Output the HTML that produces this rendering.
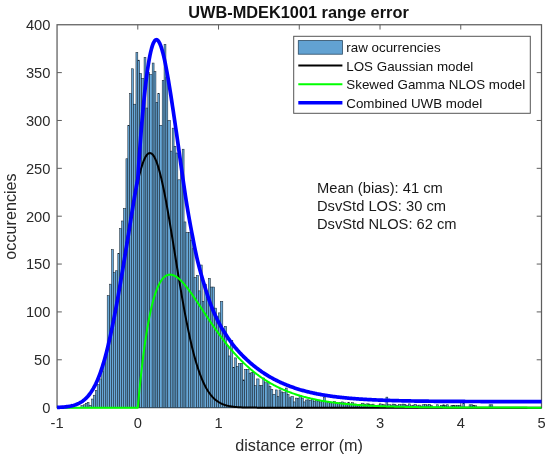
<!DOCTYPE html>
<html><head><meta charset="utf-8"><title>UWB-MDEK1001 range error</title>
<style>html,body{margin:0;padding:0;background:#fff}body{width:550px;height:461px;overflow:hidden}</style></head>
<body>
<svg width="550" height="461" viewBox="0 0 550 461" style="display:block">
<rect width="550" height="461" fill="#fff"/>
<rect x="57.05" y="24.75" width="484.45" height="382.9" fill="none" stroke="#5e5e5e" stroke-width="1.25"/>
<path d="M137.79,407.65 v-4.8 M137.79,24.75 v4.8 M218.53,407.65 v-4.8 M218.53,24.75 v4.8 M299.27,407.65 v-4.8 M299.27,24.75 v4.8 M380.02,407.65 v-4.8 M380.02,24.75 v4.8 M460.76,407.65 v-4.8 M460.76,24.75 v4.8 M57.05,359.79 h4.8 M541.5,359.79 h-4.8 M57.05,311.92 h4.8 M541.5,311.92 h-4.8 M57.05,264.06 h4.8 M541.5,264.06 h-4.8 M57.05,216.20 h4.8 M541.5,216.20 h-4.8 M57.05,168.34 h4.8 M541.5,168.34 h-4.8 M57.05,120.47 h4.8 M541.5,120.47 h-4.8 M57.05,72.61 h4.8 M541.5,72.61 h-4.8" stroke="#5e5e5e" stroke-width="1" fill="none"/>
<g fill="#68a8d8" stroke="#121e2a" stroke-width="0.52">
<rect x="80.938" y="405.74" width="2.500" height="1.91"/>
<rect x="83.438" y="404.78" width="1.875" height="2.87"/>
<rect x="85.312" y="403.34" width="1.875" height="4.31"/>
<rect x="87.188" y="402.39" width="1.875" height="5.26"/>
<rect x="89.062" y="405.26" width="2.500" height="2.39"/>
<rect x="91.562" y="399.03" width="1.875" height="8.62"/>
<rect x="93.438" y="395.21" width="1.875" height="12.44"/>
<rect x="95.312" y="390.42" width="1.875" height="17.23"/>
<rect x="97.188" y="384.68" width="2.500" height="22.97"/>
<rect x="99.688" y="378.93" width="1.875" height="28.72"/>
<rect x="101.562" y="371.27" width="1.875" height="36.38"/>
<rect x="103.438" y="362.66" width="1.875" height="44.99"/>
<rect x="105.312" y="350.21" width="1.875" height="57.44"/>
<rect x="107.188" y="295.65" width="2.500" height="112.00"/>
<rect x="109.688" y="284.16" width="1.875" height="123.49"/>
<rect x="111.562" y="249.70" width="1.875" height="157.95"/>
<rect x="113.438" y="272.68" width="1.875" height="134.97"/>
<rect x="115.312" y="270.76" width="2.500" height="136.89"/>
<rect x="117.812" y="253.53" width="1.875" height="154.12"/>
<rect x="119.688" y="228.64" width="1.875" height="179.01"/>
<rect x="121.562" y="220.99" width="1.875" height="186.66"/>
<rect x="123.438" y="208.54" width="2.500" height="199.11"/>
<rect x="125.938" y="158.76" width="1.875" height="248.88"/>
<rect x="127.812" y="125.26" width="1.875" height="282.39"/>
<rect x="129.688" y="93.67" width="1.875" height="313.98"/>
<rect x="131.562" y="68.78" width="1.875" height="338.87"/>
<rect x="133.438" y="104.20" width="2.500" height="303.45"/>
<rect x="135.938" y="52.51" width="1.875" height="355.14"/>
<rect x="137.812" y="60.17" width="1.875" height="347.48"/>
<rect x="139.688" y="73.57" width="1.875" height="334.08"/>
<rect x="141.562" y="78.36" width="2.500" height="329.29"/>
<rect x="144.062" y="57.30" width="1.875" height="350.35"/>
<rect x="145.938" y="108.03" width="1.875" height="299.62"/>
<rect x="147.812" y="72.61" width="1.875" height="335.04"/>
<rect x="149.688" y="74.53" width="2.500" height="333.12"/>
<rect x="152.188" y="63.04" width="1.875" height="344.61"/>
<rect x="154.062" y="71.66" width="1.875" height="335.99"/>
<rect x="155.938" y="102.29" width="1.875" height="305.36"/>
<rect x="157.812" y="93.67" width="1.875" height="313.98"/>
<rect x="159.688" y="125.26" width="2.500" height="282.39"/>
<rect x="162.188" y="80.27" width="1.875" height="327.38"/>
<rect x="164.062" y="44.37" width="1.875" height="363.28"/>
<rect x="165.938" y="77.40" width="1.875" height="330.25"/>
<rect x="167.812" y="120.47" width="2.500" height="287.18"/>
<rect x="170.312" y="151.11" width="1.875" height="256.54"/>
<rect x="172.188" y="128.13" width="1.875" height="279.52"/>
<rect x="174.062" y="146.32" width="1.875" height="261.33"/>
<rect x="175.938" y="153.02" width="1.875" height="254.63"/>
<rect x="177.812" y="179.82" width="2.500" height="227.83"/>
<rect x="180.312" y="168.34" width="1.875" height="239.31"/>
<rect x="182.188" y="149.19" width="1.875" height="258.46"/>
<rect x="184.062" y="221.94" width="1.875" height="185.71"/>
<rect x="185.938" y="232.47" width="2.500" height="175.18"/>
<rect x="188.438" y="232.47" width="1.875" height="175.18"/>
<rect x="190.312" y="240.13" width="1.875" height="167.52"/>
<rect x="192.188" y="248.75" width="1.875" height="158.90"/>
<rect x="194.062" y="277.46" width="2.500" height="130.19"/>
<rect x="196.562" y="275.55" width="1.875" height="132.10"/>
<rect x="198.438" y="290.87" width="1.875" height="116.78"/>
<rect x="200.312" y="265.02" width="1.875" height="142.63"/>
<rect x="202.188" y="301.40" width="1.875" height="106.25"/>
<rect x="204.062" y="284.16" width="2.500" height="123.49"/>
<rect x="206.562" y="297.57" width="1.875" height="110.08"/>
<rect x="208.438" y="278.42" width="1.875" height="129.23"/>
<rect x="210.312" y="287.04" width="1.875" height="120.61"/>
<rect x="212.188" y="287.04" width="2.500" height="120.61"/>
<rect x="214.688" y="308.10" width="1.875" height="99.55"/>
<rect x="216.562" y="316.71" width="1.875" height="90.94"/>
<rect x="218.438" y="312.88" width="1.875" height="94.77"/>
<rect x="220.312" y="301.40" width="2.500" height="106.25"/>
<rect x="222.812" y="331.07" width="1.875" height="76.58"/>
<rect x="224.688" y="326.28" width="1.875" height="81.37"/>
<rect x="226.562" y="345.43" width="1.875" height="62.22"/>
<rect x="228.438" y="355.96" width="1.875" height="51.69"/>
<rect x="230.312" y="340.64" width="2.500" height="67.01"/>
<rect x="232.812" y="367.45" width="1.875" height="40.20"/>
<rect x="234.688" y="357.87" width="1.875" height="49.78"/>
<rect x="236.562" y="366.49" width="1.875" height="41.16"/>
<rect x="238.438" y="363.62" width="2.500" height="44.03"/>
<rect x="240.938" y="363.62" width="1.875" height="44.03"/>
<rect x="242.812" y="379.89" width="1.875" height="27.76"/>
<rect x="244.688" y="369.36" width="1.875" height="38.29"/>
<rect x="246.562" y="369.36" width="2.500" height="38.29"/>
<rect x="249.062" y="373.19" width="1.875" height="34.46"/>
<rect x="250.938" y="372.23" width="1.875" height="35.42"/>
<rect x="252.812" y="372.23" width="1.875" height="35.42"/>
<rect x="254.688" y="385.63" width="1.875" height="22.02"/>
<rect x="256.562" y="378.93" width="2.500" height="28.72"/>
<rect x="259.062" y="385.63" width="1.875" height="22.02"/>
<rect x="260.938" y="385.63" width="1.875" height="22.02"/>
<rect x="262.812" y="377.98" width="1.875" height="29.67"/>
<rect x="264.688" y="382.76" width="2.500" height="24.89"/>
<rect x="267.188" y="381.80" width="1.875" height="25.85"/>
<rect x="269.062" y="386.59" width="1.875" height="21.06"/>
<rect x="270.938" y="389.46" width="1.875" height="18.19"/>
<rect x="272.812" y="394.25" width="2.500" height="13.40"/>
<rect x="275.312" y="389.94" width="1.875" height="17.71"/>
<rect x="277.188" y="396.55" width="1.875" height="11.10"/>
<rect x="279.062" y="389.94" width="1.875" height="17.71"/>
<rect x="280.938" y="391.95" width="1.875" height="15.70"/>
<rect x="282.812" y="392.62" width="2.500" height="15.03"/>
<rect x="285.312" y="388.03" width="1.875" height="19.62"/>
<rect x="287.188" y="394.54" width="1.875" height="13.11"/>
<rect x="289.062" y="397.79" width="1.875" height="9.86"/>
<rect x="290.938" y="396.55" width="2.500" height="11.10"/>
<rect x="293.438" y="401.91" width="1.875" height="5.74"/>
<rect x="295.312" y="398.08" width="1.875" height="9.57"/>
<rect x="297.188" y="398.46" width="1.875" height="9.19"/>
<rect x="299.062" y="395.21" width="2.500" height="12.44"/>
<rect x="301.562" y="398.08" width="1.875" height="9.57"/>
<rect x="303.438" y="401.91" width="1.875" height="5.74"/>
<rect x="305.312" y="399.99" width="1.875" height="7.66"/>
<rect x="307.188" y="399.79" width="1.875" height="7.86"/>
<rect x="309.062" y="400.45" width="2.500" height="7.20"/>
<rect x="311.562" y="399.67" width="1.875" height="7.98"/>
<rect x="313.438" y="401.16" width="1.875" height="6.49"/>
<rect x="315.312" y="400.44" width="1.875" height="7.21"/>
<rect x="317.188" y="401.03" width="2.500" height="6.62"/>
<rect x="319.688" y="401.91" width="1.875" height="5.74"/>
<rect x="321.562" y="401.18" width="1.875" height="6.47"/>
<rect x="323.438" y="397.60" width="1.875" height="10.05"/>
<rect x="325.312" y="401.74" width="1.875" height="5.91"/>
<rect x="327.188" y="402.70" width="2.500" height="4.95"/>
<rect x="329.688" y="402.83" width="1.875" height="4.82"/>
<rect x="331.562" y="402.30" width="1.875" height="5.35"/>
<rect x="333.438" y="401.61" width="1.875" height="6.04"/>
<rect x="335.312" y="403.25" width="2.500" height="4.40"/>
<rect x="337.812" y="403.18" width="1.875" height="4.47"/>
<rect x="339.688" y="402.47" width="1.875" height="5.18"/>
<rect x="341.562" y="401.93" width="1.875" height="5.72"/>
<rect x="343.438" y="402.83" width="2.500" height="4.82"/>
<rect x="345.938" y="403.33" width="1.875" height="4.32"/>
<rect x="347.812" y="402.23" width="1.875" height="5.42"/>
<rect x="349.688" y="404.29" width="1.875" height="3.36"/>
<rect x="351.562" y="402.69" width="1.875" height="4.96"/>
<rect x="353.438" y="403.98" width="2.500" height="3.67"/>
<rect x="355.938" y="404.38" width="1.875" height="3.27"/>
<rect x="357.812" y="404.53" width="1.875" height="3.12"/>
<rect x="359.688" y="404.21" width="1.875" height="3.44"/>
<rect x="361.562" y="403.22" width="2.500" height="4.43"/>
<rect x="364.062" y="404.63" width="1.875" height="3.02"/>
<rect x="365.938" y="403.86" width="1.875" height="3.79"/>
<rect x="367.812" y="403.81" width="1.875" height="3.84"/>
<rect x="369.688" y="404.44" width="2.500" height="3.21"/>
<rect x="372.188" y="404.13" width="1.875" height="3.52"/>
<rect x="374.062" y="405.21" width="1.875" height="2.44"/>
<rect x="375.938" y="405.27" width="1.875" height="2.38"/>
<rect x="377.812" y="405.02" width="1.875" height="2.63"/>
<rect x="379.688" y="404.07" width="2.500" height="3.58"/>
<rect x="382.188" y="404.65" width="1.875" height="3.00"/>
<rect x="384.062" y="404.94" width="1.875" height="2.71"/>
<rect x="385.938" y="397.12" width="1.875" height="10.53"/>
<rect x="387.812" y="404.73" width="2.500" height="2.92"/>
<rect x="390.312" y="405.09" width="1.875" height="2.56"/>
<rect x="392.188" y="404.09" width="1.875" height="3.56"/>
<rect x="394.062" y="404.33" width="1.875" height="3.32"/>
<rect x="395.938" y="405.32" width="2.500" height="2.33"/>
<rect x="398.438" y="404.66" width="1.875" height="2.99"/>
<rect x="400.312" y="404.79" width="1.875" height="2.86"/>
<rect x="402.188" y="404.08" width="1.875" height="3.57"/>
<rect x="404.062" y="404.42" width="1.875" height="3.23"/>
<rect x="405.938" y="405.37" width="2.500" height="2.28"/>
<rect x="408.438" y="403.94" width="1.875" height="3.71"/>
<rect x="410.312" y="405.78" width="1.875" height="1.87"/>
<rect x="412.188" y="405.17" width="1.875" height="2.48"/>
<rect x="414.062" y="404.48" width="2.500" height="3.17"/>
<rect x="416.562" y="405.78" width="1.875" height="1.87"/>
<rect x="418.438" y="405.09" width="1.875" height="2.56"/>
<rect x="420.312" y="406.05" width="1.875" height="1.60"/>
<rect x="422.188" y="404.75" width="2.500" height="2.90"/>
<rect x="424.688" y="404.56" width="1.875" height="3.09"/>
<rect x="426.562" y="404.98" width="1.875" height="2.67"/>
<rect x="428.438" y="404.36" width="1.875" height="3.29"/>
<rect x="430.312" y="405.55" width="1.875" height="2.10"/>
<rect x="436.562" y="404.78" width="1.875" height="2.87"/>
<rect x="440.312" y="405.26" width="2.500" height="2.39"/>
<rect x="442.812" y="404.78" width="1.875" height="2.87"/>
<rect x="444.688" y="405.26" width="1.875" height="2.39"/>
<rect x="446.562" y="404.78" width="1.875" height="2.87"/>
<rect x="450.938" y="405.26" width="1.875" height="2.39"/>
<rect x="452.812" y="405.74" width="1.875" height="1.91"/>
<rect x="454.688" y="405.74" width="1.875" height="1.91"/>
<rect x="456.562" y="405.26" width="1.875" height="2.39"/>
<rect x="458.438" y="405.26" width="2.500" height="2.39"/>
<rect x="462.812" y="402.86" width="1.875" height="4.79"/>
<rect x="469.062" y="404.78" width="1.875" height="2.87"/>
<rect x="470.938" y="404.78" width="1.875" height="2.87"/>
<rect x="472.812" y="405.74" width="1.875" height="1.91"/>
<rect x="474.688" y="405.74" width="1.875" height="1.91"/>
<rect x="489.062" y="404.78" width="1.875" height="2.87"/>
<rect x="490.938" y="404.78" width="1.875" height="2.87"/>
</g>
<path d="M57.05,407.41 L57.86,407.38 L58.66,407.35 L59.47,407.31 L60.28,407.26 L61.09,407.22 L61.89,407.16 L62.70,407.11 L63.51,407.04 L64.32,406.97 L65.12,406.89 L65.93,406.80 L66.74,406.70 L67.55,406.59 L68.35,406.47 L69.16,406.34 L69.97,406.20 L70.78,406.04 L71.58,405.86 L72.39,405.67 L73.20,405.46 L74.01,405.23 L74.81,404.98 L75.62,404.71 L76.43,404.41 L77.24,404.09 L78.04,403.73 L78.85,403.35 L79.66,402.94 L80.47,402.49 L81.27,402.00 L82.08,401.47 L82.89,400.90 L83.69,400.29 L84.50,399.63 L85.31,398.92 L86.12,398.16 L86.92,397.34 L87.73,396.46 L88.54,395.52 L89.35,394.52 L90.15,393.45 L90.96,392.30 L91.77,391.08 L92.58,389.78 L93.38,388.41 L94.19,386.94 L95.00,385.39 L95.81,383.75 L96.61,382.02 L97.42,380.18 L98.23,378.25 L99.04,376.22 L99.84,374.08 L100.65,371.83 L101.46,369.47 L102.27,367.00 L103.07,364.41 L103.88,361.71 L104.69,358.89 L105.49,355.95 L106.30,352.90 L107.11,349.72 L107.92,346.42 L108.72,343.01 L109.53,339.47 L110.34,335.82 L111.15,332.05 L111.95,328.17 L112.76,324.18 L113.57,320.08 L114.38,315.87 L115.18,311.56 L115.99,307.16 L116.80,302.67 L117.61,298.09 L118.41,293.43 L119.22,288.70 L120.03,283.90 L120.84,279.05 L121.64,274.14 L122.45,269.20 L123.26,264.22 L124.07,259.22 L124.87,254.21 L125.68,249.20 L126.49,244.19 L127.30,239.21 L128.10,234.26 L128.91,229.34 L129.72,224.49 L130.52,219.69 L131.33,214.98 L132.14,210.35 L132.95,205.83 L133.75,201.42 L134.56,197.14 L135.37,192.99 L136.18,189.00 L136.98,185.16 L137.79,181.50 L138.60,178.01 L139.41,174.72 L140.21,171.63 L141.02,168.75 L141.83,166.09 L142.64,163.66 L143.44,161.47 L144.25,159.51 L145.06,157.81 L145.87,156.35 L146.67,155.16 L147.48,154.23 L148.29,153.56 L149.10,153.16 L149.90,153.02 L150.71,153.16 L151.52,153.56 L152.33,154.23 L153.13,155.16 L153.94,156.35 L154.75,157.81 L155.55,159.51 L156.36,161.47 L157.17,163.66 L157.98,166.09 L158.78,168.75 L159.59,171.63 L160.40,174.72 L161.21,178.01 L162.01,181.50 L162.82,185.16 L163.63,189.00 L164.44,192.99 L165.24,197.14 L166.05,201.42 L166.86,205.83 L167.67,210.35 L168.47,214.98 L169.28,219.69 L170.09,224.49 L170.90,229.34 L171.70,234.26 L172.51,239.21 L173.32,244.19 L174.13,249.20 L174.93,254.21 L175.74,259.22 L176.55,264.22 L177.36,269.20 L178.16,274.14 L178.97,279.05 L179.78,283.90 L180.58,288.70 L181.39,293.43 L182.20,298.09 L183.01,302.67 L183.81,307.16 L184.62,311.56 L185.43,315.87 L186.24,320.08 L187.04,324.18 L187.85,328.17 L188.66,332.05 L189.47,335.82 L190.27,339.47 L191.08,343.01 L191.89,346.42 L192.70,349.72 L193.50,352.90 L194.31,355.95 L195.12,358.89 L195.93,361.71 L196.73,364.41 L197.54,367.00 L198.35,369.47 L199.16,371.83 L199.96,374.08 L200.77,376.22 L201.58,378.25 L202.38,380.18 L203.19,382.02 L204.00,383.75 L204.81,385.39 L205.61,386.94 L206.42,388.41 L207.23,389.78 L208.04,391.08 L208.84,392.30 L209.65,393.45 L210.46,394.52 L211.27,395.52 L212.07,396.46 L212.88,397.34 L213.69,398.16 L214.50,398.92 L215.30,399.63 L216.11,400.29 L216.92,400.90 L217.73,401.47 L218.53,402.00 L219.34,402.49 L220.15,402.94 L220.96,403.35 L221.76,403.73 L222.57,404.09 L223.38,404.41 L224.19,404.71 L224.99,404.98 L225.80,405.23 L226.61,405.46 L227.41,405.67 L228.22,405.86 L229.03,406.04 L229.84,406.20 L230.64,406.34 L231.45,406.47 L232.26,406.59 L233.07,406.70 L233.87,406.80 L234.68,406.89 L235.49,406.97 L236.30,407.04 L237.10,407.11 L237.91,407.16 L238.72,407.22 L239.53,407.26 L240.33,407.31 L241.14,407.35 L241.95,407.38 L242.76,407.41 L243.56,407.44 L244.37,407.46 L245.18,407.48 L245.99,407.50 L246.79,407.52 L247.60,407.54 L248.41,407.55 L249.22,407.56 L250.02,407.57 L250.83,407.58 L251.64,407.59 L252.44,407.60 L253.25,407.60 L254.06,407.61 L254.87,407.62 L255.67,407.62 L256.48,407.62 L257.29,407.63 L258.10,407.63 L258.90,407.63 L259.71,407.64 L260.52,407.64 L261.33,407.64 L262.13,407.64 L262.94,407.64 L263.75,407.64 L264.56,407.64 L265.36,407.64 L266.17,407.65 L266.98,407.65 L267.79,407.65 L268.59,407.65 L269.40,407.65 L270.21,407.65 L271.02,407.65 L271.82,407.65 L272.63,407.65 L273.44,407.65 L274.25,407.65 L275.05,407.65 L275.86,407.65 L276.67,407.65 L277.47,407.65 L278.28,407.65 L279.09,407.65 L279.90,407.65 L280.70,407.65 L281.51,407.65 L282.32,407.65 L283.13,407.65 L283.93,407.65 L284.74,407.65 L285.55,407.65 L286.36,407.65 L287.16,407.65 L287.97,407.65 L288.78,407.65 L289.59,407.65 L290.39,407.65 L291.20,407.65 L292.01,407.65 L292.82,407.65 L293.62,407.65 L294.43,407.65 L295.24,407.65 L296.05,407.65 L296.85,407.65 L297.66,407.65 L298.47,407.65 L299.27,407.65 L300.08,407.65 L300.89,407.65 L301.70,407.65 L302.50,407.65 L303.31,407.65 L304.12,407.65 L304.93,407.65 L305.73,407.65 L306.54,407.65 L307.35,407.65 L308.16,407.65 L308.96,407.65 L309.77,407.65 L310.58,407.65 L311.39,407.65 L312.19,407.65 L313.00,407.65 L313.81,407.65 L314.62,407.65 L315.42,407.65 L316.23,407.65 L317.04,407.65 L317.85,407.65 L318.65,407.65 L319.46,407.65 L320.27,407.65 L321.08,407.65 L321.88,407.65 L322.69,407.65 L323.50,407.65 L324.30,407.65 L325.11,407.65 L325.92,407.65 L326.73,407.65 L327.53,407.65 L328.34,407.65 L329.15,407.65 L329.96,407.65 L330.76,407.65 L331.57,407.65 L332.38,407.65 L333.19,407.65 L333.99,407.65 L334.80,407.65 L335.61,407.65 L336.42,407.65 L337.22,407.65 L338.03,407.65 L338.84,407.65 L339.65,407.65 L340.45,407.65 L341.26,407.65 L342.07,407.65 L342.88,407.65 L343.68,407.65 L344.49,407.65 L345.30,407.65 L346.11,407.65 L346.91,407.65 L347.72,407.65 L348.53,407.65 L349.33,407.65 L350.14,407.65 L350.95,407.65 L351.76,407.65 L352.56,407.65 L353.37,407.65 L354.18,407.65 L354.99,407.65 L355.79,407.65 L356.60,407.65 L357.41,407.65 L358.22,407.65 L359.02,407.65 L359.83,407.65 L360.64,407.65 L361.45,407.65 L362.25,407.65 L363.06,407.65 L363.87,407.65 L364.68,407.65 L365.48,407.65 L366.29,407.65 L367.10,407.65 L367.91,407.65 L368.71,407.65 L369.52,407.65 L370.33,407.65 L371.14,407.65 L371.94,407.65 L372.75,407.65 L373.56,407.65 L374.36,407.65 L375.17,407.65 L375.98,407.65 L376.79,407.65 L377.59,407.65 L378.40,407.65 L379.21,407.65 L380.02,407.65 L380.82,407.65 L381.63,407.65 L382.44,407.65 L383.25,407.65 L384.05,407.65 L384.86,407.65 L385.67,407.65 L386.48,407.65 L387.28,407.65 L388.09,407.65 L388.90,407.65 L389.71,407.65 L390.51,407.65 L391.32,407.65 L392.13,407.65 L392.94,407.65 L393.74,407.65 L394.55,407.65 L395.36,407.65 L396.17,407.65 L396.97,407.65 L397.78,407.65 L398.59,407.65 L399.39,407.65 L400.20,407.65 L401.01,407.65 L401.82,407.65 L402.62,407.65 L403.43,407.65 L404.24,407.65 L405.05,407.65 L405.85,407.65 L406.66,407.65 L407.47,407.65 L408.28,407.65 L409.08,407.65 L409.89,407.65 L410.70,407.65 L411.51,407.65 L412.31,407.65 L413.12,407.65 L413.93,407.65 L414.74,407.65 L415.54,407.65 L416.35,407.65 L417.16,407.65 L417.97,407.65 L418.77,407.65 L419.58,407.65 L420.39,407.65 L421.19,407.65 L422.00,407.65 L422.81,407.65 L423.62,407.65 L424.42,407.65 L425.23,407.65 L426.04,407.65 L426.85,407.65 L427.65,407.65 L428.46,407.65 L429.27,407.65 L430.08,407.65 L430.88,407.65 L431.69,407.65 L432.50,407.65 L433.31,407.65 L434.11,407.65 L434.92,407.65 L435.73,407.65 L436.54,407.65 L437.34,407.65 L438.15,407.65 L438.96,407.65 L439.77,407.65 L440.57,407.65 L441.38,407.65 L442.19,407.65 L443.00,407.65 L443.80,407.65 L444.61,407.65 L445.42,407.65 L446.22,407.65 L447.03,407.65 L447.84,407.65 L448.65,407.65 L449.45,407.65 L450.26,407.65 L451.07,407.65 L451.88,407.65 L452.68,407.65 L453.49,407.65 L454.30,407.65 L455.11,407.65 L455.91,407.65 L456.72,407.65 L457.53,407.65 L458.34,407.65 L459.14,407.65 L459.95,407.65 L460.76,407.65 L461.57,407.65 L462.37,407.65 L463.18,407.65 L463.99,407.65 L464.80,407.65 L465.60,407.65 L466.41,407.65 L467.22,407.65 L468.03,407.65 L468.83,407.65 L469.64,407.65 L470.45,407.65 L471.25,407.65 L472.06,407.65 L472.87,407.65 L473.68,407.65 L474.48,407.65 L475.29,407.65 L476.10,407.65 L476.91,407.65 L477.71,407.65 L478.52,407.65 L479.33,407.65 L480.14,407.65 L480.94,407.65 L481.75,407.65 L482.56,407.65 L483.37,407.65 L484.17,407.65 L484.98,407.65 L485.79,407.65 L486.60,407.65 L487.40,407.65 L488.21,407.65 L489.02,407.65 L489.83,407.65 L490.63,407.65 L491.44,407.65 L492.25,407.65 L493.06,407.65 L493.86,407.65 L494.67,407.65 L495.48,407.65 L496.28,407.65 L497.09,407.65 L497.90,407.65 L498.71,407.65 L499.51,407.65 L500.32,407.65 L501.13,407.65 L501.94,407.65 L502.74,407.65 L503.55,407.65 L504.36,407.65 L505.17,407.65 L505.97,407.65 L506.78,407.65 L507.59,407.65 L508.40,407.65 L509.20,407.65 L510.01,407.65 L510.82,407.65 L511.63,407.65 L512.43,407.65 L513.24,407.65 L514.05,407.65 L514.86,407.65 L515.66,407.65 L516.47,407.65 L517.28,407.65 L518.08,407.65 L518.89,407.65 L519.70,407.65 L520.51,407.65 L521.31,407.65 L522.12,407.65 L522.93,407.65 L523.74,407.65 L524.54,407.65 L525.35,407.65 L526.16,407.65 L526.97,407.65 L527.77,407.65 L528.58,407.65 L529.39,407.65 L530.20,407.65 L531.00,407.65 L531.81,407.65 L532.62,407.65 L533.43,407.65 L534.23,407.65 L535.04,407.65 L535.85,407.65 L536.66,407.65 L537.46,407.65 L538.27,407.65 L539.08,407.65 L539.89,407.65 L540.69,407.65 L541.50,407.65" fill="none" stroke="#000" stroke-width="2" stroke-linejoin="round"/>
<path d="M57.05,407.65 L57.86,407.65 L58.66,407.65 L59.47,407.65 L60.28,407.65 L61.09,407.65 L61.89,407.65 L62.70,407.65 L63.51,407.65 L64.32,407.65 L65.12,407.65 L65.93,407.65 L66.74,407.65 L67.55,407.65 L68.35,407.65 L69.16,407.65 L69.97,407.65 L70.78,407.65 L71.58,407.65 L72.39,407.65 L73.20,407.65 L74.01,407.65 L74.81,407.65 L75.62,407.65 L76.43,407.65 L77.24,407.65 L78.04,407.65 L78.85,407.65 L79.66,407.65 L80.47,407.65 L81.27,407.65 L82.08,407.65 L82.89,407.65 L83.69,407.65 L84.50,407.65 L85.31,407.65 L86.12,407.65 L86.92,407.65 L87.73,407.65 L88.54,407.65 L89.35,407.65 L90.15,407.65 L90.96,407.65 L91.77,407.65 L92.58,407.65 L93.38,407.65 L94.19,407.65 L95.00,407.65 L95.81,407.65 L96.61,407.65 L97.42,407.65 L98.23,407.65 L99.04,407.65 L99.84,407.65 L100.65,407.65 L101.46,407.65 L102.27,407.65 L103.07,407.65 L103.88,407.65 L104.69,407.65 L105.49,407.65 L106.30,407.65 L107.11,407.65 L107.92,407.65 L108.72,407.65 L109.53,407.65 L110.34,407.65 L111.15,407.65 L111.95,407.65 L112.76,407.65 L113.57,407.65 L114.38,407.65 L115.18,407.65 L115.99,407.65 L116.80,407.65 L117.61,407.65 L118.41,407.65 L119.22,407.65 L120.03,407.65 L120.84,407.65 L121.64,407.65 L122.45,407.65 L123.26,407.65 L124.07,407.65 L124.87,407.65 L125.68,407.65 L126.49,407.65 L127.30,407.65 L128.10,407.65 L128.91,407.65 L129.72,407.65 L130.52,407.65 L131.33,407.65 L132.14,407.65 L132.95,407.65 L133.75,407.65 L134.56,407.65 L135.37,407.65 L136.18,407.65 L136.98,407.65 L137.79,407.65 L138.60,398.83 L139.41,390.45 L140.21,382.48 L141.02,374.92 L141.83,367.75 L142.64,360.95 L143.44,354.52 L144.25,348.43 L145.06,342.67 L145.87,337.23 L146.67,332.10 L147.48,327.27 L148.29,322.72 L149.10,318.44 L149.90,314.43 L150.71,310.67 L151.52,307.15 L152.33,303.87 L153.13,300.81 L153.94,297.96 L154.75,295.32 L155.55,292.88 L156.36,290.62 L157.17,288.55 L157.98,286.65 L158.78,284.92 L159.59,283.35 L160.40,281.92 L161.21,280.65 L162.01,279.51 L162.82,278.51 L163.63,277.64 L164.44,276.88 L165.24,276.25 L166.05,275.72 L166.86,275.30 L167.67,274.99 L168.47,274.76 L169.28,274.63 L170.09,274.59 L170.90,274.63 L171.70,274.75 L172.51,274.95 L173.32,275.22 L174.13,275.55 L174.93,275.95 L175.74,276.41 L176.55,276.92 L177.36,277.50 L178.16,278.12 L178.97,278.79 L179.78,279.51 L180.58,280.27 L181.39,281.07 L182.20,281.91 L183.01,282.78 L183.81,283.69 L184.62,284.63 L185.43,285.60 L186.24,286.59 L187.04,287.62 L187.85,288.66 L188.66,289.73 L189.47,290.81 L190.27,291.92 L191.08,293.04 L191.89,294.17 L192.70,295.32 L193.50,296.49 L194.31,297.66 L195.12,298.84 L195.93,300.03 L196.73,301.23 L197.54,302.44 L198.35,303.65 L199.16,304.87 L199.96,306.08 L200.77,307.31 L201.58,308.53 L202.38,309.75 L203.19,310.98 L204.00,312.20 L204.81,313.42 L205.61,314.64 L206.42,315.86 L207.23,317.07 L208.04,318.28 L208.84,319.48 L209.65,320.68 L210.46,321.88 L211.27,323.06 L212.07,324.25 L212.88,325.42 L213.69,326.59 L214.50,327.75 L215.30,328.90 L216.11,330.05 L216.92,331.18 L217.73,332.31 L218.53,333.43 L219.34,334.54 L220.15,335.64 L220.96,336.72 L221.76,337.80 L222.57,338.87 L223.38,339.93 L224.19,340.98 L224.99,342.02 L225.80,343.05 L226.61,344.06 L227.41,345.07 L228.22,346.07 L229.03,347.05 L229.84,348.02 L230.64,348.99 L231.45,349.94 L232.26,350.88 L233.07,351.80 L233.87,352.72 L234.68,353.63 L235.49,354.52 L236.30,355.41 L237.10,356.28 L237.91,357.14 L238.72,357.99 L239.53,358.83 L240.33,359.66 L241.14,360.47 L241.95,361.28 L242.76,362.07 L243.56,362.85 L244.37,363.63 L245.18,364.39 L245.99,365.14 L246.79,365.88 L247.60,366.61 L248.41,367.33 L249.22,368.04 L250.02,368.74 L250.83,369.42 L251.64,370.10 L252.44,370.77 L253.25,371.43 L254.06,372.07 L254.87,372.71 L255.67,373.34 L256.48,373.96 L257.29,374.56 L258.10,375.16 L258.90,375.75 L259.71,376.33 L260.52,376.90 L261.33,377.47 L262.13,378.02 L262.94,378.56 L263.75,379.10 L264.56,379.62 L265.36,380.14 L266.17,380.65 L266.98,381.15 L267.79,381.64 L268.59,382.13 L269.40,382.61 L270.21,383.07 L271.02,383.53 L271.82,383.99 L272.63,384.43 L273.44,384.87 L274.25,385.30 L275.05,385.72 L275.86,386.14 L276.67,386.55 L277.47,386.95 L278.28,387.34 L279.09,387.73 L279.90,388.11 L280.70,388.49 L281.51,388.85 L282.32,389.21 L283.13,389.57 L283.93,389.92 L284.74,390.26 L285.55,390.60 L286.36,390.93 L287.16,391.25 L287.97,391.57 L288.78,391.88 L289.59,392.19 L290.39,392.49 L291.20,392.79 L292.01,393.08 L292.82,393.36 L293.62,393.64 L294.43,393.92 L295.24,394.19 L296.05,394.45 L296.85,394.71 L297.66,394.97 L298.47,395.22 L299.27,395.46 L300.08,395.71 L300.89,395.94 L301.70,396.18 L302.50,396.40 L303.31,396.63 L304.12,396.85 L304.93,397.06 L305.73,397.27 L306.54,397.48 L307.35,397.69 L308.16,397.89 L308.96,398.08 L309.77,398.27 L310.58,398.46 L311.39,398.65 L312.19,398.83 L313.00,399.01 L313.81,399.18 L314.62,399.35 L315.42,399.52 L316.23,399.68 L317.04,399.85 L317.85,400.00 L318.65,400.16 L319.46,400.31 L320.27,400.46 L321.08,400.61 L321.88,400.75 L322.69,400.89 L323.50,401.03 L324.30,401.17 L325.11,401.30 L325.92,401.43 L326.73,401.56 L327.53,401.68 L328.34,401.80 L329.15,401.92 L329.96,402.04 L330.76,402.16 L331.57,402.27 L332.38,402.38 L333.19,402.49 L333.99,402.60 L334.80,402.70 L335.61,402.80 L336.42,402.90 L337.22,403.00 L338.03,403.10 L338.84,403.19 L339.65,403.29 L340.45,403.38 L341.26,403.47 L342.07,403.55 L342.88,403.64 L343.68,403.72 L344.49,403.80 L345.30,403.88 L346.11,403.96 L346.91,404.04 L347.72,404.12 L348.53,404.19 L349.33,404.26 L350.14,404.33 L350.95,404.40 L351.76,404.47 L352.56,404.54 L353.37,404.60 L354.18,404.67 L354.99,404.73 L355.79,404.79 L356.60,404.85 L357.41,404.91 L358.22,404.97 L359.02,405.03 L359.83,405.08 L360.64,405.13 L361.45,405.19 L362.25,405.24 L363.06,405.29 L363.87,405.34 L364.68,405.39 L365.48,405.44 L366.29,405.49 L367.10,405.53 L367.91,405.58 L368.71,405.62 L369.52,405.66 L370.33,405.71 L371.14,405.75 L371.94,405.79 L372.75,405.83 L373.56,405.87 L374.36,405.90 L375.17,405.94 L375.98,405.98 L376.79,406.01 L377.59,406.05 L378.40,406.08 L379.21,406.12 L380.02,406.15 L380.82,406.18 L381.63,406.21 L382.44,406.24 L383.25,406.27 L384.05,406.30 L384.86,406.33 L385.67,406.36 L386.48,406.39 L387.28,406.42 L388.09,406.44 L388.90,406.47 L389.71,406.49 L390.51,406.52 L391.32,406.54 L392.13,406.57 L392.94,406.59 L393.74,406.61 L394.55,406.64 L395.36,406.66 L396.17,406.68 L396.97,406.70 L397.78,406.72 L398.59,406.74 L399.39,406.76 L400.20,406.78 L401.01,406.80 L401.82,406.82 L402.62,406.84 L403.43,406.85 L404.24,406.87 L405.05,406.89 L405.85,406.90 L406.66,406.92 L407.47,406.94 L408.28,406.95 L409.08,406.97 L409.89,406.98 L410.70,407.00 L411.51,407.01 L412.31,407.02 L413.12,407.04 L413.93,407.05 L414.74,407.06 L415.54,407.08 L416.35,407.09 L417.16,407.10 L417.97,407.11 L418.77,407.13 L419.58,407.14 L420.39,407.15 L421.19,407.16 L422.00,407.17 L422.81,407.18 L423.62,407.19 L424.42,407.20 L425.23,407.21 L426.04,407.22 L426.85,407.23 L427.65,407.24 L428.46,407.25 L429.27,407.26 L430.08,407.27 L430.88,407.27 L431.69,407.28 L432.50,407.29 L433.31,407.30 L434.11,407.31 L434.92,407.31 L435.73,407.32 L436.54,407.33 L437.34,407.34 L438.15,407.34 L438.96,407.35 L439.77,407.36 L440.57,407.36 L441.38,407.37 L442.19,407.37 L443.00,407.38 L443.80,407.39 L444.61,407.39 L445.42,407.40 L446.22,407.40 L447.03,407.41 L447.84,407.41 L448.65,407.42 L449.45,407.43 L450.26,407.43 L451.07,407.43 L451.88,407.44 L452.68,407.44 L453.49,407.45 L454.30,407.45 L455.11,407.46 L455.91,407.46 L456.72,407.47 L457.53,407.47 L458.34,407.47 L459.14,407.48 L459.95,407.48 L460.76,407.49 L461.57,407.49 L462.37,407.49 L463.18,407.50 L463.99,407.50 L464.80,407.50 L465.60,407.51 L466.41,407.51 L467.22,407.51 L468.03,407.52 L468.83,407.52 L469.64,407.52 L470.45,407.52 L471.25,407.53 L472.06,407.53 L472.87,407.53 L473.68,407.54 L474.48,407.54 L475.29,407.54 L476.10,407.54 L476.91,407.55 L477.71,407.55 L478.52,407.55 L479.33,407.55 L480.14,407.55 L480.94,407.56 L481.75,407.56 L482.56,407.56 L483.37,407.56 L484.17,407.56 L484.98,407.57 L485.79,407.57 L486.60,407.57 L487.40,407.57 L488.21,407.57 L489.02,407.58 L489.83,407.58 L490.63,407.58 L491.44,407.58 L492.25,407.58 L493.06,407.58 L493.86,407.59 L494.67,407.59 L495.48,407.59 L496.28,407.59 L497.09,407.59 L497.90,407.59 L498.71,407.59 L499.51,407.59 L500.32,407.60 L501.13,407.60 L501.94,407.60 L502.74,407.60 L503.55,407.60 L504.36,407.60 L505.17,407.60 L505.97,407.60 L506.78,407.60 L507.59,407.61 L508.40,407.61 L509.20,407.61 L510.01,407.61 L510.82,407.61 L511.63,407.61 L512.43,407.61 L513.24,407.61 L514.05,407.61 L514.86,407.61 L515.66,407.61 L516.47,407.62 L517.28,407.62 L518.08,407.62 L518.89,407.62 L519.70,407.62 L520.51,407.62 L521.31,407.62 L522.12,407.62 L522.93,407.62 L523.74,407.62 L524.54,407.62 L525.35,407.62 L526.16,407.62 L526.97,407.62 L527.77,407.63 L528.58,407.63 L529.39,407.63 L530.20,407.63 L531.00,407.63 L531.81,407.63 L532.62,407.63 L533.43,407.63 L534.23,407.63 L535.04,407.63 L535.85,407.63 L536.66,407.63 L537.46,407.63 L538.27,407.63 L539.08,407.63 L539.89,407.63 L540.69,407.63 L541.50,407.63" fill="none" stroke="#00ff00" stroke-width="2" stroke-linejoin="round"/>
<path d="M57.05,407.41 L57.86,407.38 L58.66,407.35 L59.47,407.31 L60.28,407.26 L61.09,407.22 L61.89,407.16 L62.70,407.11 L63.51,407.04 L64.32,406.97 L65.12,406.89 L65.93,406.80 L66.74,406.70 L67.55,406.59 L68.35,406.47 L69.16,406.34 L69.97,406.20 L70.78,406.04 L71.58,405.86 L72.39,405.67 L73.20,405.46 L74.01,405.23 L74.81,404.98 L75.62,404.71 L76.43,404.41 L77.24,404.09 L78.04,403.73 L78.85,403.35 L79.66,402.94 L80.47,402.49 L81.27,402.00 L82.08,401.47 L82.89,400.90 L83.69,400.29 L84.50,399.63 L85.31,398.92 L86.12,398.16 L86.92,397.34 L87.73,396.46 L88.54,395.52 L89.35,394.52 L90.15,393.45 L90.96,392.30 L91.77,391.08 L92.58,389.78 L93.38,388.41 L94.19,386.94 L95.00,385.39 L95.81,383.75 L96.61,382.02 L97.42,380.18 L98.23,378.25 L99.04,376.22 L99.84,374.08 L100.65,371.83 L101.46,369.47 L102.27,367.00 L103.07,364.41 L103.88,361.71 L104.69,358.89 L105.49,355.95 L106.30,352.90 L107.11,349.72 L107.92,346.42 L108.72,343.01 L109.53,339.47 L110.34,335.83 L111.15,332.10 L111.95,328.28 L112.76,324.37 L113.57,320.37 L114.38,316.27 L115.18,312.09 L115.99,307.83 L116.80,303.48 L117.61,299.05 L118.41,294.55 L119.22,289.97 L120.03,285.33 L120.84,280.63 L121.64,275.87 L122.45,271.06 L123.26,266.21 L124.07,261.33 L124.87,256.41 L125.68,251.48 L126.49,246.54 L127.30,241.59 L128.10,236.65 L128.91,231.67 L129.72,226.62 L130.52,221.54 L131.33,216.45 L132.14,211.38 L132.95,206.37 L133.75,201.45 L134.56,196.64 L135.37,191.98 L136.18,187.49 L136.98,183.21 L137.79,179.17 L138.60,166.58 L139.41,154.71 L140.21,143.59 L141.02,133.14 L141.83,123.27 L142.64,113.97 L143.44,105.24 L144.25,97.09 L145.06,89.50 L145.87,82.47 L146.67,76.01 L147.48,70.09 L148.29,64.72 L149.10,59.89 L149.90,55.60 L150.71,51.84 L151.52,48.60 L152.33,45.88 L153.13,43.66 L153.94,41.94 L154.75,40.71 L155.55,39.96 L156.36,39.68 L157.17,39.87 L157.98,40.50 L158.78,41.56 L159.59,43.04 L160.40,44.90 L161.21,47.14 L162.01,49.73 L162.82,52.65 L163.63,55.88 L164.44,59.41 L165.24,63.20 L166.05,67.25 L166.86,71.52 L167.67,76.01 L168.47,80.68 L169.28,85.52 L170.09,90.51 L170.90,95.63 L171.70,100.86 L172.51,106.18 L173.32,111.57 L174.13,117.01 L174.93,122.49 L175.74,127.98 L176.55,133.53 L177.36,139.17 L178.16,144.87 L178.97,150.62 L179.78,156.39 L180.58,162.16 L181.39,167.92 L182.20,173.63 L183.01,179.28 L183.81,184.86 L184.62,190.34 L185.43,195.70 L186.24,200.94 L187.04,205.99 L187.85,210.85 L188.66,215.53 L189.47,220.05 L190.27,224.46 L191.08,228.76 L191.89,232.98 L192.70,237.16 L193.50,241.32 L194.31,245.48 L195.12,249.55 L195.93,253.41 L196.73,257.07 L197.54,260.55 L198.35,263.87 L199.16,267.05 L199.96,270.09 L200.77,273.02 L201.58,275.86 L202.38,278.62 L203.19,281.31 L204.00,283.96 L204.81,286.59 L205.61,289.20 L206.42,291.83 L207.23,294.41 L208.04,296.90 L208.84,299.30 L209.65,301.61 L210.46,303.83 L211.27,305.97 L212.07,308.03 L212.88,310.02 L213.69,311.94 L214.50,313.80 L215.30,315.59 L216.11,317.32 L216.92,318.99 L217.73,320.61 L218.53,322.18 L219.34,323.71 L220.15,325.19 L220.96,326.63 L221.76,328.04 L222.57,329.41 L223.38,330.75 L224.19,332.06 L224.99,333.34 L225.80,334.61 L226.61,335.85 L227.41,337.06 L228.22,338.25 L229.03,339.41 L229.84,340.54 L230.64,341.65 L231.45,342.73 L232.26,343.79 L233.07,344.82 L233.87,345.84 L234.68,346.83 L235.49,347.81 L236.30,348.77 L237.10,349.70 L237.91,350.62 L238.72,351.53 L239.53,352.41 L240.33,353.28 L241.14,354.14 L241.95,354.98 L242.76,355.80 L243.56,356.61 L244.37,357.41 L245.18,358.19 L245.99,358.96 L246.79,359.72 L247.60,360.47 L248.41,361.20 L249.22,361.92 L250.02,362.63 L250.83,363.32 L251.64,364.01 L252.44,364.69 L253.25,365.35 L254.06,366.00 L254.87,366.64 L255.67,367.28 L256.48,367.90 L257.29,368.51 L258.10,369.11 L258.90,369.70 L259.71,370.29 L260.52,370.86 L261.33,371.42 L262.13,371.98 L262.94,372.52 L263.75,373.06 L264.56,373.59 L265.36,374.11 L266.17,374.62 L266.98,375.12 L267.79,375.61 L268.59,376.10 L269.40,376.57 L270.21,377.04 L271.02,377.50 L271.82,377.96 L272.63,378.40 L273.44,378.84 L274.25,379.27 L275.05,379.69 L275.86,380.11 L276.67,380.52 L277.47,380.92 L278.28,381.31 L279.09,381.70 L279.90,382.08 L280.70,382.45 L281.51,382.82 L282.32,383.18 L283.13,383.54 L283.93,383.89 L284.74,384.23 L285.55,384.57 L286.36,384.90 L287.16,385.22 L287.97,385.54 L288.78,385.85 L289.59,386.16 L290.39,386.46 L291.20,386.76 L292.01,387.05 L292.82,387.33 L293.62,387.61 L294.43,387.89 L295.24,388.16 L296.05,388.42 L296.85,388.68 L297.66,388.94 L298.47,389.19 L299.27,389.43 L300.08,389.68 L300.89,389.91 L301.70,390.15 L302.50,390.37 L303.31,390.60 L304.12,390.82 L304.93,391.03 L305.73,391.24 L306.54,391.45 L307.35,391.66 L308.16,391.85 L308.96,392.05 L309.77,392.24 L310.58,392.43 L311.39,392.62 L312.19,392.80 L313.00,392.98 L313.81,393.15 L314.62,393.32 L315.42,393.49 L316.23,393.65 L317.04,393.82 L317.85,393.97 L318.65,394.13 L319.46,394.28 L320.27,394.43 L321.08,394.58 L321.88,394.72 L322.69,394.86 L323.50,395.00 L324.30,395.14 L325.11,395.27 L325.92,395.40 L326.73,395.53 L327.53,395.65 L328.34,395.77 L329.15,395.89 L329.96,396.01 L330.76,396.13 L331.57,396.24 L332.38,396.35 L333.19,396.46 L333.99,396.57 L334.80,396.67 L335.61,396.77 L336.42,396.87 L337.22,396.97 L338.03,397.07 L338.84,397.16 L339.65,397.26 L340.45,397.35 L341.26,397.44 L342.07,397.52 L342.88,397.61 L343.68,397.69 L344.49,397.77 L345.30,397.85 L346.11,397.93 L346.91,398.01 L347.72,398.08 L348.53,398.16 L349.33,398.23 L350.14,398.30 L350.95,398.37 L351.76,398.44 L352.56,398.51 L353.37,398.57 L354.18,398.64 L354.99,398.70 L355.79,398.76 L356.60,398.82 L357.41,398.88 L358.22,398.94 L359.02,398.99 L359.83,399.05 L360.64,399.10 L361.45,399.16 L362.25,399.21 L363.06,399.26 L363.87,399.31 L364.68,399.36 L365.48,399.41 L366.29,399.45 L367.10,399.50 L367.91,399.55 L368.71,399.59 L369.52,399.63 L370.33,399.68 L371.14,399.72 L371.94,399.76 L372.75,399.80 L373.56,399.84 L374.36,399.87 L375.17,399.91 L375.98,399.95 L376.79,399.98 L377.59,400.02 L378.40,400.05 L379.21,400.09 L380.02,400.12 L380.82,400.15 L381.63,400.18 L382.44,400.21 L383.25,400.24 L384.05,400.27 L384.86,400.30 L385.67,400.33 L386.48,400.36 L387.28,400.39 L388.09,400.41 L388.90,400.44 L389.71,400.46 L390.51,400.49 L391.32,400.51 L392.13,400.54 L392.94,400.56 L393.74,400.58 L394.55,400.61 L395.36,400.63 L396.17,400.65 L396.97,400.67 L397.78,400.69 L398.59,400.71 L399.39,400.73 L400.20,400.75 L401.01,400.77 L401.82,400.79 L402.62,400.80 L403.43,400.82 L404.24,400.84 L405.05,400.86 L405.85,400.87 L406.66,400.89 L407.47,400.91 L408.28,400.92 L409.08,400.94 L409.89,400.95 L410.70,400.97 L411.51,400.98 L412.31,400.99 L413.12,401.01 L413.93,401.02 L414.74,401.03 L415.54,401.05 L416.35,401.06 L417.16,401.07 L417.97,401.08 L418.77,401.10 L419.58,401.11 L420.39,401.12 L421.19,401.13 L422.00,401.14 L422.81,401.15 L423.62,401.16 L424.42,401.17 L425.23,401.18 L426.04,401.19 L426.85,401.20 L427.65,401.21 L428.46,401.22 L429.27,401.23 L430.08,401.24 L430.88,401.24 L431.69,401.25 L432.50,401.26 L433.31,401.27 L434.11,401.28 L434.92,401.28 L435.73,401.29 L436.54,401.30 L437.34,401.30 L438.15,401.31 L438.96,401.32 L439.77,401.33 L440.57,401.33 L441.38,401.34 L442.19,401.34 L443.00,401.35 L443.80,401.36 L444.61,401.36 L445.42,401.37 L446.22,401.37 L447.03,401.38 L447.84,401.38 L448.65,401.39 L449.45,401.39 L450.26,401.40 L451.07,401.40 L451.88,401.41 L452.68,401.41 L453.49,401.42 L454.30,401.42 L455.11,401.43 L455.91,401.43 L456.72,401.44 L457.53,401.44 L458.34,401.44 L459.14,401.45 L459.95,401.45 L460.76,401.46 L461.57,401.46 L462.37,401.46 L463.18,401.47 L463.99,401.47 L464.80,401.47 L465.60,401.48 L466.41,401.48 L467.22,401.48 L468.03,401.49 L468.83,401.49 L469.64,401.49 L470.45,401.49 L471.25,401.50 L472.06,401.50 L472.87,401.50 L473.68,401.50 L474.48,401.51 L475.29,401.51 L476.10,401.51 L476.91,401.51 L477.71,401.52 L478.52,401.52 L479.33,401.52 L480.14,401.52 L480.94,401.53 L481.75,401.53 L482.56,401.53 L483.37,401.53 L484.17,401.53 L484.98,401.54 L485.79,401.54 L486.60,401.54 L487.40,401.54 L488.21,401.54 L489.02,401.54 L489.83,401.55 L490.63,401.55 L491.44,401.55 L492.25,401.55 L493.06,401.55 L493.86,401.55 L494.67,401.56 L495.48,401.56 L496.28,401.56 L497.09,401.56 L497.90,401.56 L498.71,401.56 L499.51,401.56 L500.32,401.57 L501.13,401.57 L501.94,401.57 L502.74,401.57 L503.55,401.57 L504.36,401.57 L505.17,401.57 L505.97,401.57 L506.78,401.57 L507.59,401.58 L508.40,401.58 L509.20,401.58 L510.01,401.58 L510.82,401.58 L511.63,401.58 L512.43,401.58 L513.24,401.58 L514.05,401.58 L514.86,401.58 L515.66,401.58 L516.47,401.59 L517.28,401.59 L518.08,401.59 L518.89,401.59 L519.70,401.59 L520.51,401.59 L521.31,401.59 L522.12,401.59 L522.93,401.59 L523.74,401.59 L524.54,401.59 L525.35,401.59 L526.16,401.59 L526.97,401.59 L527.77,401.59 L528.58,401.59 L529.39,401.60 L530.20,401.60 L531.00,401.60 L531.81,401.60 L532.62,401.60 L533.43,401.60 L534.23,401.60 L535.04,401.60 L535.85,401.60 L536.66,401.60 L537.46,401.60 L538.27,401.60 L539.08,401.60 L539.89,401.60 L540.69,401.60 L541.50,401.60" fill="none" stroke="#0000ff" stroke-width="3.7" stroke-linejoin="round"/>
<g font-family="Liberation Sans, Arial, sans-serif" fill="#2a2a2a">
<g font-size="14.7">
<text x="57.05" y="427.6" text-anchor="middle">-1</text>
<text x="137.79" y="427.6" text-anchor="middle">0</text>
<text x="218.53" y="427.6" text-anchor="middle">1</text>
<text x="299.27" y="427.6" text-anchor="middle">2</text>
<text x="380.02" y="427.6" text-anchor="middle">3</text>
<text x="460.76" y="427.6" text-anchor="middle">4</text>
<text x="541.50" y="427.6" text-anchor="middle">5</text>
<text x="50.4" y="412.95" text-anchor="end">0</text>
<text x="50.4" y="365.09" text-anchor="end">50</text>
<text x="50.4" y="317.22" text-anchor="end">100</text>
<text x="50.4" y="269.36" text-anchor="end">150</text>
<text x="50.4" y="221.50" text-anchor="end">200</text>
<text x="50.4" y="173.64" text-anchor="end">250</text>
<text x="50.4" y="125.77" text-anchor="end">300</text>
<text x="50.4" y="77.91" text-anchor="end">350</text>
<text x="50.4" y="30.05" text-anchor="end">400</text>
</g>
<text x="299.1" y="450.5" font-size="16.2" text-anchor="middle">distance error (m)</text>
<text transform="translate(15.6,216.5) rotate(-90)" font-size="16.2" text-anchor="middle">occurencies</text>
<text x="298.5" y="18.3" font-size="16.33" font-weight="bold" fill="#111" text-anchor="middle">UWB-MDEK1001 range error</text>
<g font-size="14.7" fill="#1a1a1a"><text x="317" y="192.9">Mean (bias): 41 cm</text><text x="317" y="210.9">DsvStd LOS: 30 cm</text><text x="317" y="228.9">DsvStd NLOS: 62 cm</text></g>
</g>
<rect x="293.7" y="36.3" width="236.59999999999997" height="77.0" fill="#fff" stroke="#555" stroke-width="1"/>
<rect x="298.3" y="40.6" width="44.1" height="13.6" fill="#62a2d2" stroke="#2a4a63" stroke-width="0.8"/>
<path d="M298.3,65.5 H342.4" stroke="#000" stroke-width="2"/>
<path d="M298.3,84.3 H342.4" stroke="#00ff00" stroke-width="2"/>
<path d="M298.3,102.8 H342.4" stroke="#0000ff" stroke-width="3.5"/>
<g font-family="Liberation Sans, Arial, sans-serif" font-size="13.36" fill="#111">
<text x="346.3" y="52.2">raw ocurrencies</text>
<text x="346.3" y="70.6">LOS Gaussian model</text>
<text x="346.3" y="89.2">Skewed Gamma NLOS model</text>
<text x="346.3" y="107.8">Combined UWB model</text>
</g>
</svg>
</body></html>
